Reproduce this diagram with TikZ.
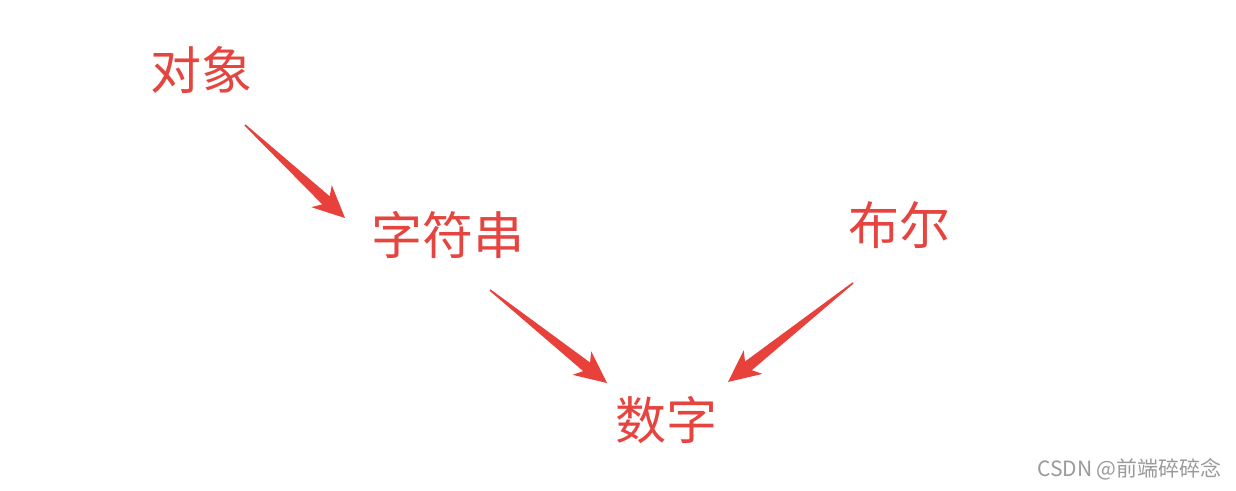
\documentclass[tikz,border=0pt]{standalone}
\usepackage{fontspec}
\newfontfamily\cjk{Noto Sans CJK SC}
\usetikzlibrary{calc}
\definecolor{arrowred}{HTML}{E8403A}
\definecolor{textred}{HTML}{E5443F}
\definecolor{markgray}{HTML}{9A9A9A}
\tikzset{
  word/.style={text=textred, font=\cjk\fontsize{51}{55}\selectfont, inner sep=0pt, anchor=center}
}
\newcommand\taparrow[2]{%
  \path ($(#2)!32pt!(#1)$) coordinate (hb)
        ($(#2)!26pt!(#1)$) coordinate (hn);
  \fill[arrowred] ($(#1)!0.8pt!90:(#2)$) -- ($(hn)!5.5pt!90:(#2)$) -- ($(hb)!15pt!90:(#2)$)
     -- (#2) -- ($(hb)!15pt!-90:(#2)$) -- ($(hn)!5.5pt!-90:(#2)$) -- ($(#1)!0.8pt!-90:(#2)$) -- cycle;
}
\begin{document}
\begin{tikzpicture}[x=1pt,y=-1pt]
  \fill[white] (0,0) rectangle (1236,490);
  \useasboundingbox (0,0) rectangle (1236,490);
  \node[word] (obj) at (201,70) {对象};
  \node[word] (str) at (448,235) {字符串};
  \node[word] (bool) at (899,225) {布尔};
  \node[word] (num) at (666,420) {数字};
  \node[text=markgray, font=\cjk\fontsize{21}{24}\selectfont, inner sep=0pt, anchor=east] (wm) at (1222,469) {CSDN @前端碎碎念};
  \coordinate (s1) at (245,125); \coordinate (e1) at (345,218);
  \coordinate (s2) at (490,290); \coordinate (e2) at (607,383);
  \coordinate (s3) at (853,283); \coordinate (e3) at (728,382);
  \taparrow{s1}{e1}
  \taparrow{s2}{e2}
  \taparrow{s3}{e3}
\end{tikzpicture}
\end{document}
